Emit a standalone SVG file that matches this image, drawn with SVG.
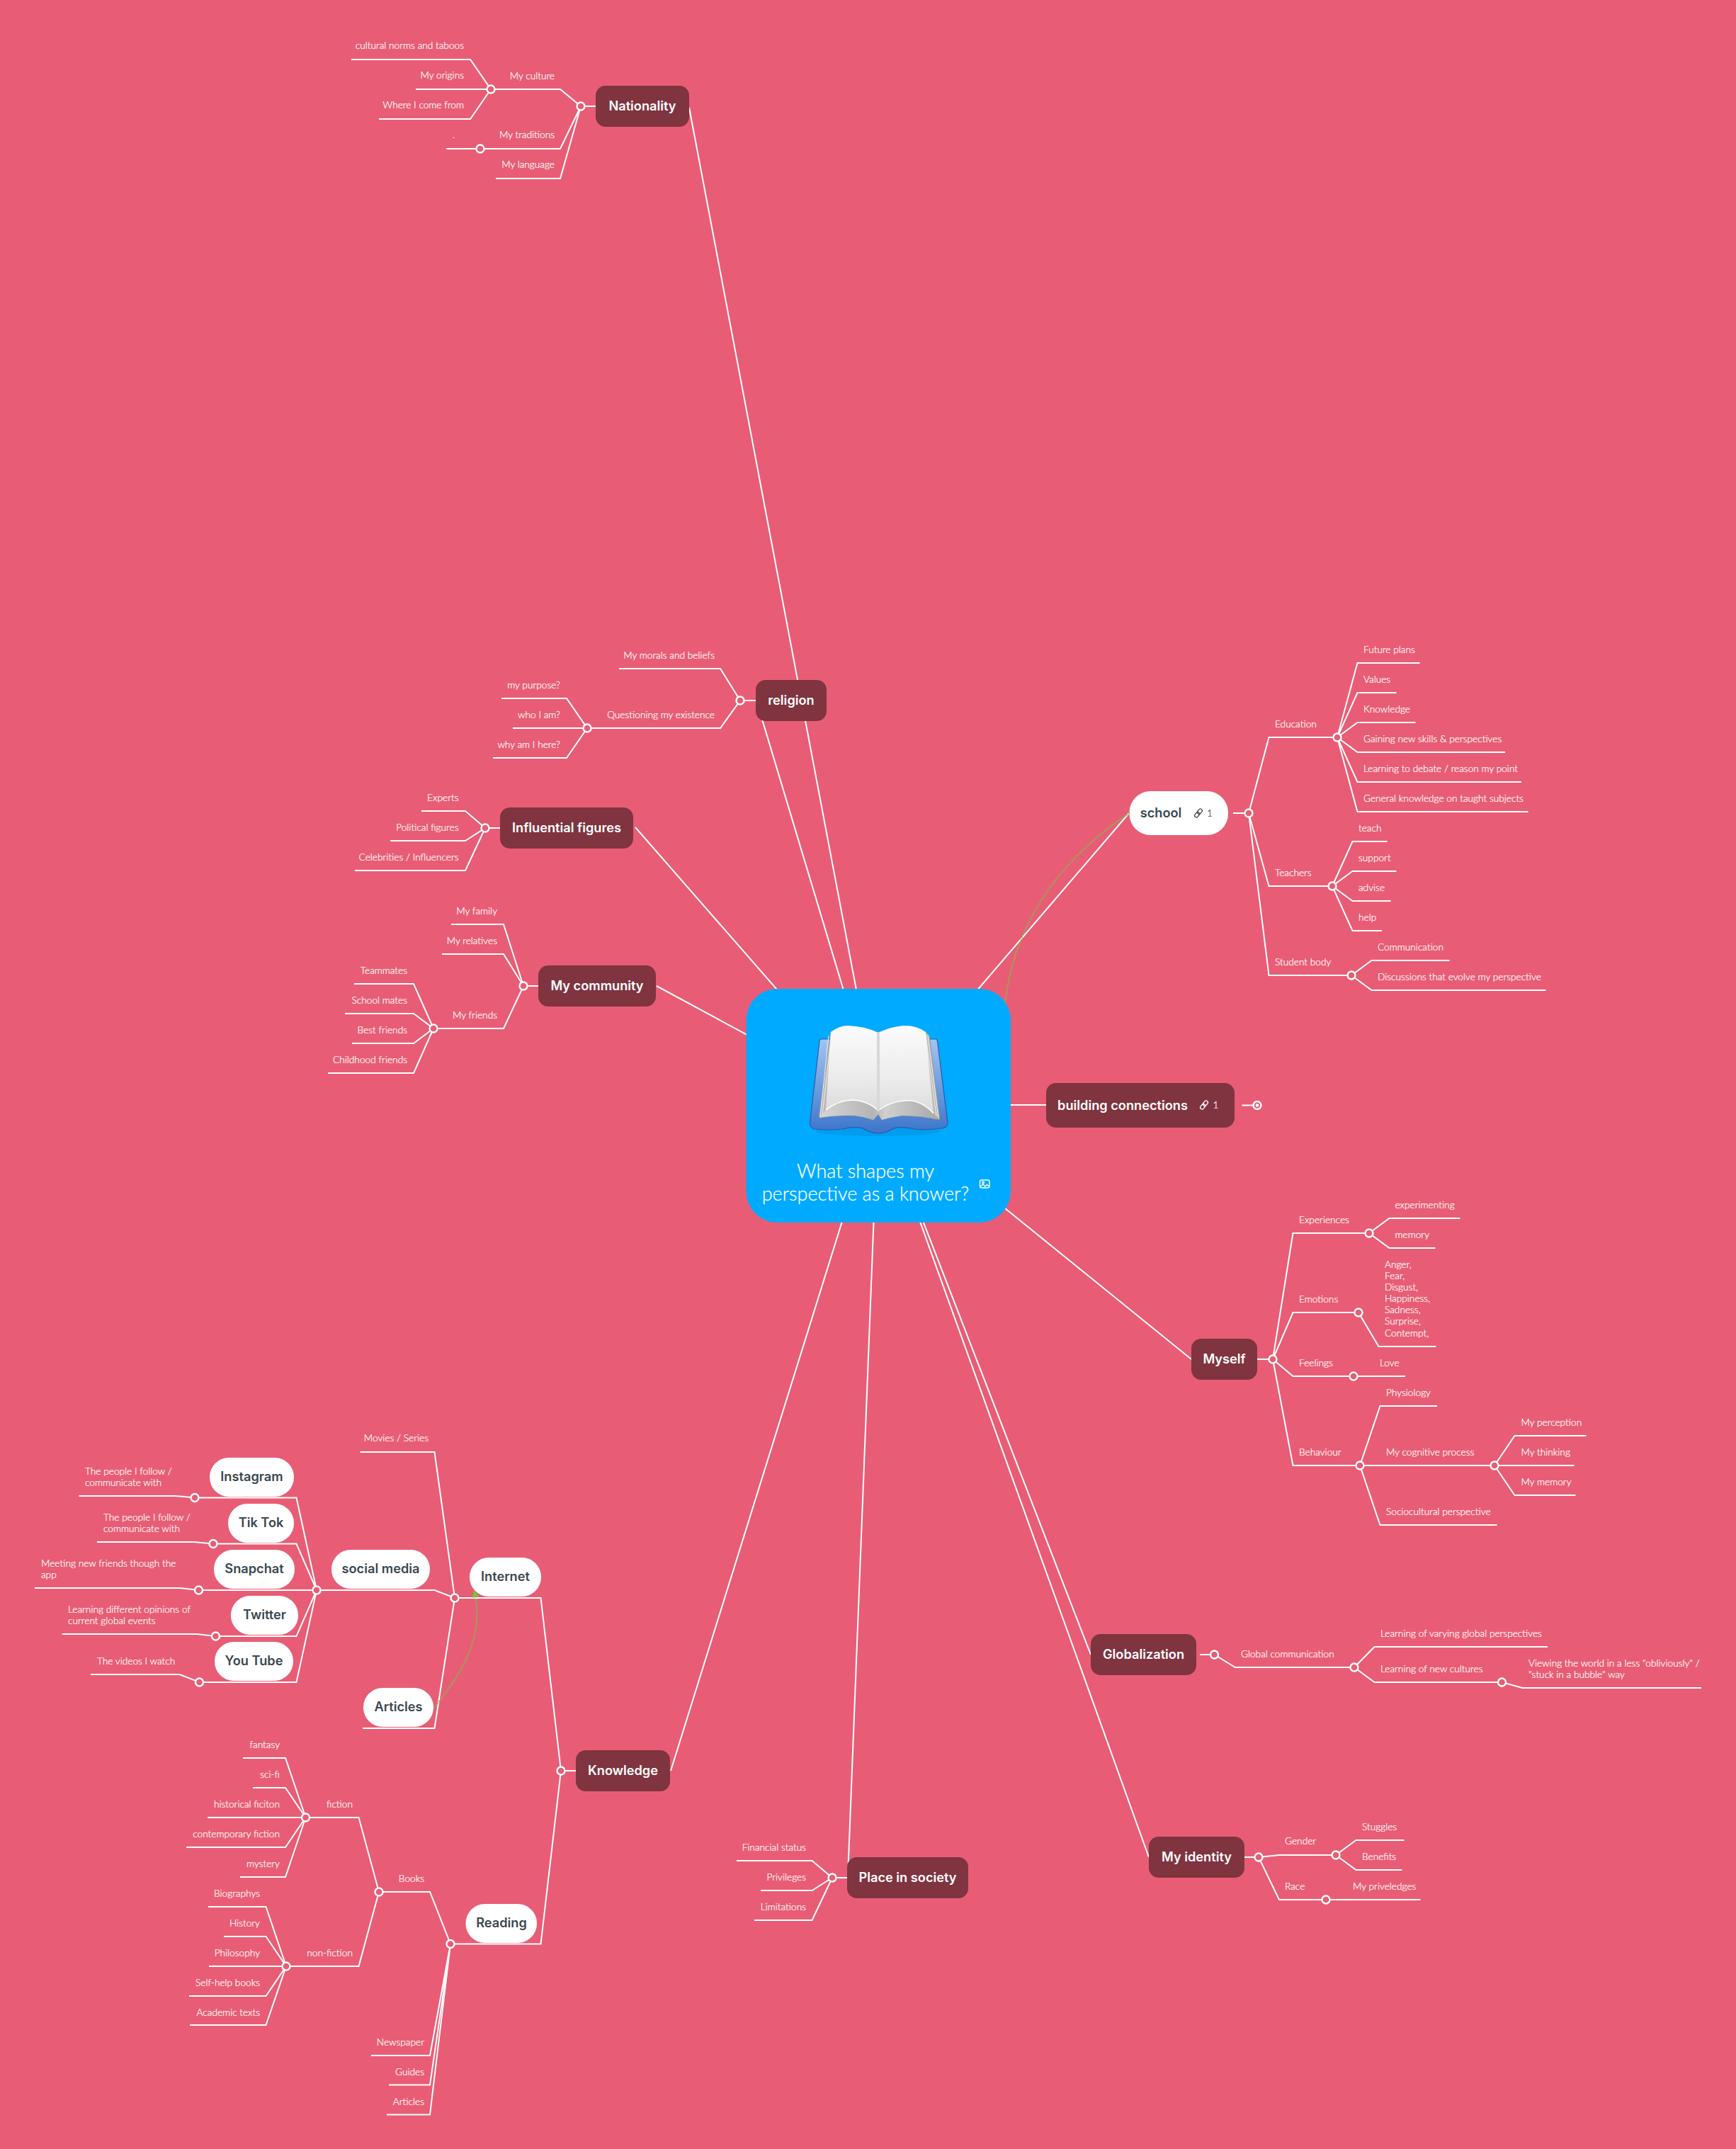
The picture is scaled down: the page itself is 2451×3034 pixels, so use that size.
<svg xmlns="http://www.w3.org/2000/svg" width="2451" height="3034" viewBox="0 0 2451 3034">
<style>
.l{fill:none;stroke:#fff;stroke-width:2;stroke-linejoin:miter}
.h{fill:#e85d75;stroke:#fff;stroke-width:2.4}
.r{fill:none;stroke:#7ac143;stroke-width:2;stroke-dasharray:2 1.500}
text{font-family:"Lato","Liberation Sans",sans-serif}
.t{font-size:13.7px;font-weight:300;fill:#fff;stroke:#fff;stroke-width:.22px}
.e{text-anchor:end}
.d{fill:#7f3440}
.p{fill:#fff}
.n,.q{font-family:"Inter","Liberation Sans",sans-serif;font-size:18.200px;font-weight:600;text-anchor:middle}
.n{fill:#fff}
.q{fill:#3a4750}
.c{font-size:27px;font-weight:300;fill:#fff;stroke:#fff;stroke-width:.25px;text-anchor:middle}
</style>
<defs>
<marker id="arr" markerWidth="12" markerHeight="12" refX="11" refY="6" orient="auto" markerUnits="userSpaceOnUse"><path d="M1 1L11 6L1 11Z" fill="#7ac143"/></marker>
<linearGradient id="pg" x1="0" y1="0" x2="0" y2="1"><stop offset="0" stop-color="#fbfbfb"/><stop offset=".6" stop-color="#ececec"/><stop offset="1" stop-color="#dcdcdc"/></linearGradient>
<linearGradient id="pb" x1="0" y1="0" x2="1" y2="0"><stop offset="0" stop-color="#d6d6d6"/><stop offset=".45" stop-color="#b4b4b4"/><stop offset=".55" stop-color="#cfcfcf"/><stop offset="1" stop-color="#a8a8a8"/></linearGradient>
<linearGradient id="cv" x1="0" y1="0" x2="0" y2="1"><stop offset="0" stop-color="#a4c4ee"/><stop offset=".7" stop-color="#5a8ed8"/><stop offset="1" stop-color="#3c74c8"/></linearGradient>
<g id="link"><g transform="rotate(-50)" fill="none" stroke-width="1.300"><rect x="-7" y="-2.500" width="8" height="5" rx="2.500"/><rect x="-1" y="-2.500" width="8" height="5" rx="2.500"/></g></g>
</defs>
<rect width="2451" height="3034" fill="#e85d75"/>
<g id="connectors">
<path class="l" d="M973 152L1240 1561M1068 989L1240 1561M897 1168L1240 1561M927 1392L1240 1561M1594 1148L1240 1561M1427 1560H1477M1682 1919L1240 1561M1540 2336L1240 1561M1622 2622L1240 1561M1197 2650L1240 1561M947 2500L1240 1561"/>
<path class="l" d="M841 150H820L791 126H693M693 126L664 84H496M693 126H587M693 126L664 168H535M820 150L791 210H630M820 150L791 252H700"/>
<path class="l" d="M1067 989H1045L1017 944H874M1045 989L1017 1028H829M829 1028L800 986H708M829 1028H724M829 1028L800 1070H696"/>
<path class="l" d="M706 1169H685L657 1145H595M685 1169L657 1187H551M685 1169L657 1229H501"/>
<path class="l" d="M760 1392H739L711 1305H637M739 1392L711 1347H624M739 1392L711 1452H612M612 1452L584 1389H500M612 1452L584 1431H487M612 1452L584 1473H497M612 1452L584 1515H463"/>
<path class="l" d="M1741 1148H1763L1791.500 1041H1888M1763 1148L1791.500 1251H1881M1763 1148L1791.500 1377H1908"/>
<path class="l" d="M1888 1041L1916.500 936H2004.500M1888 1041L1916.500 978H1971.500M1888 1041L1916.500 1020H1998.500M1888 1041L1916.500 1062H2125M1888 1041L1916.500 1104H2148M1888 1041L1916.500 1146H2157.500"/>
<path class="l" d="M1881 1251L1909.500 1188H1958.500M1881 1251L1909.500 1230H1971.500M1881 1251L1909.500 1272H1963.500M1881 1251L1909.500 1314H1951M1908 1377L1936.500 1356H2046.500M1908 1377L1936.500 1398H2182.500"/>
<path class="l" d="M1753.500 1560.500H1775"/>
<path class="l" d="M1775 1919H1797L1825.500 1741H1933M1797 1919L1825.500 1853H1918M1797 1919L1825.500 1943H1984M1797 1919L1825.500 2069H2110"/>
<path class="l" d="M1933 1741L1961.500 1720H2061.500M1933 1741L1961.500 1762H2026.500M1918 1853L1946.500 1901H2027.500M1920 2069L1948.500 1985H2029M1920 2069L1948.500 2153H2113.500M2110 2069L2138.500 2027H2239.500M2110 2069H2222.500M2110 2069L2138.500 2111H2224.500"/>
<path class="l" d="M1694 2336H1714.500L1744 2354H1912M1912 2354L1940.500 2325H2185M1912 2354L1940.500 2375H2120.500L2149.500 2383H2402"/>
<path class="l" d="M1757 2622H1777L1806 2619H1886M1777 2622L1806 2682H2005.500M1886 2619L1914.500 2598H1982.500M1886 2619L1914.500 2640H1979.500"/>
<path class="l" d="M1196 2651H1175L1146.500 2627H1040M1175 2651L1146.500 2669H1074M1175 2651L1146.500 2711H1065"/>
<path class="l" d="M813 2500H792L763.500 2256H642M792 2500L763.500 2744.500H636"/>
<path class="l" d="M642 2256L613.500 2050H508.500M642 2256L613.500 2245H447M642 2256L613.500 2440H512"/>
<path class="l" d="M447 2245L418.500 2114.500H275L248 2112H111.500M447 2245L418.500 2179.500H301L274 2177H137M447 2245H280.500L253.500 2242H49M447 2245L418.500 2310H304.500L278 2307H87.500M447 2245L418.500 2375H281.500L253.500 2364H128"/>
<path class="l" d="M636 2744.500L607 2671H535M636 2744.500L607 2902H524M636 2744.500L607 2943.500H549M636 2744.500L607 2985.500H546"/>
<path class="l" d="M535 2671L506.500 2566H431.500M535 2671L506.500 2776H404"/>
<path class="l" d="M431.500 2566L403 2482H343M431.500 2566L403 2524H357M431.500 2566H293M431.500 2566L403 2608H263M431.500 2566L403 2650H339"/>
<path class="l" d="M404 2776L375.500 2692H294M404 2776L375.500 2734H316M404 2776H295M404 2776L375.500 2818H267M404 2776L375.500 2859H268"/>
<g id="hubs">
<circle class="h" cx="820" cy="150" r="5.500"/><circle class="h" cx="693" cy="126" r="5.500"/><circle class="h" cx="678" cy="210" r="5.500"/>
<circle class="h" cx="1045" cy="989" r="5.500"/><circle class="h" cx="829" cy="1028" r="5.500"/><circle class="h" cx="685" cy="1169" r="5.500"/>
<circle class="h" cx="739" cy="1392" r="5.500"/><circle class="h" cx="612" cy="1452" r="5.500"/>
<circle class="h" cx="1763" cy="1148" r="5.500"/><circle class="h" cx="1888" cy="1041" r="5.500"/><circle class="h" cx="1881" cy="1251" r="5.500"/><circle class="h" cx="1908" cy="1377" r="5.500"/>
<circle class="h" cx="1775" cy="1560.500" r="5.500"/><circle cx="1775" cy="1560.500" r="2.300" fill="#fff"/>
<circle class="h" cx="1797" cy="1919" r="5.500"/><circle class="h" cx="1933" cy="1741" r="5.500"/><circle class="h" cx="1918" cy="1853" r="5.500"/><circle class="h" cx="1911" cy="1943" r="5.500"/><circle class="h" cx="1920" cy="2069" r="5.500"/><circle class="h" cx="2110" cy="2069" r="5.500"/>
<circle class="h" cx="1714.500" cy="2336" r="5.500"/><circle class="h" cx="1912" cy="2354" r="5.500"/><circle class="h" cx="2120.500" cy="2375" r="5.500"/>
<circle class="h" cx="1777" cy="2622" r="5.500"/><circle class="h" cx="1886" cy="2619" r="5.500"/><circle class="h" cx="1872" cy="2682" r="5.500"/>
<circle class="h" cx="1175" cy="2651" r="5.500"/>
<circle class="h" cx="792" cy="2500" r="5.500"/><circle class="h" cx="642" cy="2256" r="5.500"/><circle class="h" cx="447" cy="2245" r="5.500"/>
<circle class="h" cx="275" cy="2114.500" r="5.500"/><circle class="h" cx="301" cy="2179.500" r="5.500"/><circle class="h" cx="280.500" cy="2245" r="5.500"/><circle class="h" cx="304.500" cy="2310" r="5.500"/><circle class="h" cx="281.500" cy="2375" r="5.500"/>
<circle class="h" cx="636" cy="2744.500" r="5.500"/><circle class="h" cx="535" cy="2671" r="5.500"/><circle class="h" cx="431.500" cy="2566" r="5.500"/><circle class="h" cx="404" cy="2776" r="5.500"/>
</g>
</g>
<g id="central">
<rect x="1053.500" y="1396" width="373.500" height="330" rx="44" fill="#00aaff"/>
<g id="book">
<ellipse cx="1240" cy="1597" rx="88" ry="7" fill="#0090e0" opacity=".5"/>
<path d="M1160 1467H1321Q1323 1467 1323.500 1470L1338 1585Q1338 1592 1330 1593Q1305 1596 1290 1594Q1272 1590 1262 1593Q1250 1600 1240 1600Q1230 1600 1218 1593Q1205 1590 1190 1594Q1170 1596 1150 1594Q1143 1592 1143.500 1585L1157 1470Q1157 1467 1160 1467Z" fill="url(#cv)" stroke="#2c5aa6" stroke-width="1.200"/>
<path d="M1173 1457L1156 1578Q1185 1574 1207 1575Q1222 1577 1233 1581L1240 1573L1245 1581Q1258 1577 1273 1575Q1300 1575 1327 1581L1312 1462L1307 1457Z" fill="#b9b9b9" stroke="#8f8f8f" stroke-width=".8"/>
<path d="M1170 1462L1158 1576M1174 1460L1161 1574M1310 1462L1325 1578M1307 1460L1322 1576" fill="none" stroke="#eee" stroke-width="1"/>
<path d="M1166 1567L1157 1578Q1185 1574 1207 1575Q1222 1577 1233 1581L1240 1573L1245 1581Q1258 1577 1273 1575Q1300 1575 1326 1580L1318 1572Q1300 1552 1277 1554Q1255 1556 1240 1568Q1225 1554 1203 1553Q1182 1554 1166 1567Z" fill="url(#pb)"/>
<path d="M1173 1457Q1185 1448 1197 1448Q1222 1449 1240 1458L1240 1568Q1225 1554 1203 1553Q1182 1554 1166 1567Z" fill="url(#pg)"/>
<path d="M1307 1457Q1295 1448 1277 1448Q1258 1449 1240 1458L1240 1568Q1255 1556 1277 1554Q1300 1552 1318 1572Z" fill="url(#pg)"/>
<path d="M1166 1567Q1182 1554 1203 1553Q1225 1554 1240 1568Q1255 1556 1277 1554Q1300 1552 1318 1572" fill="none" stroke="#fff" stroke-width="1.500"/>
<path d="M1240 1458V1568" stroke="#d8d8d8" stroke-width="4"/>
</g>
<text class="c"><tspan x="1222" y="1663">What shapes my</tspan><tspan x="1222" y="1695">perspective as a knower?</tspan></text>
<g id="image-icon" fill="none" stroke="#fff" stroke-width="1.400"><rect x="1383.500" y="1666" width="13.500" height="11" rx="2.500"/><circle cx="1388" cy="1669.500" r="1.300"/><path d="M1384 1675.500L1388 1672L1391 1675L1393.500 1672.500L1396.500 1675"/></g>
</g>
<g id="nationality"><rect class="d" x="841" y="121" width="132" height="58" rx="14"/><text class="n" x="907" y="156">Nationality</text></g>
<g id="religion"><rect class="d" x="1067" y="960" width="100" height="58" rx="14"/><text class="n" x="1117" y="995">religion</text></g>
<g id="influential-figures"><rect class="d" x="706" y="1140" width="188" height="58" rx="14"/><text class="n" x="800" y="1175">Influential figures</text></g>
<g id="my-community"><rect class="d" x="760" y="1363" width="166" height="58" rx="14"/><text class="n" x="843" y="1398">My community</text></g>
<g id="building-connections"><rect class="d" x="1477" y="1529" width="266" height="63" rx="14"/><text class="n" x="1585" y="1566.500">building connections</text><use href="#link" x="1700" y="1560" stroke="#fff"/><text class="t" x="1712.500" y="1565">1</text></g>
<g id="school"><rect class="p" x="1594.500" y="1117" width="139.500" height="62" rx="30"/><text class="q" x="1639" y="1154">school</text><use href="#link" x="1692" y="1148" stroke="#3a4750"/><text class="t" style="fill:#3a4750;stroke:#3a4750" x="1704" y="1153">1</text></g>
<g id="myself"><rect class="d" x="1682" y="1890" width="93" height="58" rx="14"/><text class="n" x="1728.500" y="1925">Myself</text></g>
<g id="globalization"><rect class="d" x="1540" y="2307" width="149" height="58" rx="14"/><text class="n" x="1614.500" y="2342">Globalization</text></g>
<g id="my-identity"><rect class="d" x="1622" y="2593" width="135" height="58" rx="14"/><text class="n" x="1689.500" y="2628">My identity</text></g>
<g id="place-in-society"><rect class="d" x="1196" y="2622" width="171" height="58" rx="14"/><text class="n" x="1281.500" y="2657">Place in society</text></g>
<g id="knowledge"><rect class="d" x="813" y="2471" width="133" height="58" rx="14"/><text class="n" x="879.500" y="2506">Knowledge</text></g>
<g id="internet"><rect class="p" x="663" y="2199" width="101" height="55" rx="27"/><text class="q" x="713.500" y="2232">Internet</text></g>
<g id="social-media"><rect class="p" x="468" y="2188" width="139" height="55" rx="27"/><text class="q" x="537.500" y="2221">social media</text></g>
<g id="articles-node"><rect class="p" x="513" y="2383" width="99" height="55" rx="27"/><text class="q" x="562.500" y="2416">Articles</text></g>
<g id="instagram"><rect class="p" x="296" y="2058" width="119" height="55" rx="27"/><text class="q" x="355.500" y="2091">Instagram</text></g>
<g id="tik-tok"><rect class="p" x="322" y="2123" width="93" height="55" rx="27"/><text class="q" x="368.500" y="2156">Tik Tok</text></g>
<g id="snapchat"><rect class="p" x="302" y="2188" width="114" height="55" rx="27"/><text class="q" x="359" y="2221">Snapchat</text></g>
<g id="twitter"><rect class="p" x="326" y="2253" width="95" height="55" rx="27"/><text class="q" x="373.500" y="2286">Twitter</text></g>
<g id="you-tube"><rect class="p" x="303" y="2318" width="111" height="55" rx="27"/><text class="q" x="358.500" y="2351">You Tube</text></g>
<g id="reading"><rect class="p" x="657.500" y="2688" width="100.500" height="55" rx="27"/><text class="q" x="708" y="2721">Reading</text></g>
<g id="relations">
<path class="r" d="M1595 1148C1500 1210 1432 1300 1419 1417"/>
<path class="r" d="M613 2411C650 2365 686 2310 669 2245" marker-end="url(#arr)"/>
</g>
<g id="labels-left">
<g id="t-norms"><text class="t e" x="655" y="69">cultural norms and taboos</text></g>
<g id="t-origins"><text class="t e" x="655" y="111">My origins</text></g>
<g id="t-where"><text class="t e" x="655" y="153">Where I come from</text></g>
<g id="t-culture"><text class="t e" x="783" y="112">My culture</text></g>
<g id="t-traditions"><text class="t e" x="783" y="195">My traditions</text></g>
<g id="t-dot"><text class="t e" x="642" y="195">.</text></g>
<g id="t-language"><text class="t e" x="783" y="237">My language</text></g>
<g id="t-morals"><text class="t e" x="1009" y="930">My morals and beliefs</text></g>
<g id="t-question"><text class="t e" x="1009" y="1014">Questioning my existence</text></g>
<g id="t-purpose"><text class="t e" x="791" y="972">my purpose?</text></g>
<g id="t-who"><text class="t e" x="791" y="1014">who I am?</text></g>
<g id="t-why"><text class="t e" x="791" y="1056">why am I here?</text></g>
<g id="t-experts"><text class="t e" x="647.500" y="1131">Experts</text></g>
<g id="t-political"><text class="t e" x="647.500" y="1173">Political figures</text></g>
<g id="t-celebs"><text class="t e" x="647.500" y="1215">Celebrities / Influencers</text></g>
<g id="t-family"><text class="t e" x="702" y="1291">My family</text></g>
<g id="t-relatives"><text class="t e" x="702" y="1333">My relatives</text></g>
<g id="t-friends"><text class="t e" x="702" y="1438">My friends</text></g>
<g id="t-teammates"><text class="t e" x="575" y="1375">Teammates</text></g>
<g id="t-school"><text class="t e" x="575" y="1417">School mates</text></g>
<g id="t-best"><text class="t e" x="575" y="1459">Best friends</text></g>
<g id="t-childhood"><text class="t e" x="575" y="1501">Childhood friends</text></g>
<g id="t-financial"><text class="t e" x="1138" y="2613">Financial status</text></g>
<g id="t-privileges"><text class="t e" x="1138" y="2655">Privileges</text></g>
<g id="t-limitations"><text class="t e" x="1138" y="2697">Limitations</text></g>
<g id="t-movies"><text class="t e" x="605" y="2035">Movies / Series</text></g>
<g id="t-ig"><text class="t"><tspan x="120" y="2082">The people I follow /</tspan><tspan x="120" y="2098">communicate with</tspan></text></g>
<g id="t-tt"><text class="t"><tspan x="146" y="2147">The people I follow /</tspan><tspan x="146" y="2163">communicate with</tspan></text></g>
<g id="t-sc"><text class="t"><tspan x="58" y="2212">Meeting new friends though the</tspan><tspan x="58" y="2228">app</tspan></text></g>
<g id="t-tw"><text class="t"><tspan x="96" y="2277">Learning different opinions of</tspan><tspan x="96" y="2293">current global events</tspan></text></g>
<g id="t-yt"><text class="t" x="137" y="2350">The videos I watch</text></g>
<g id="t-fiction"><text class="t e" x="498" y="2552">fiction</text></g>
<g id="t-nonfiction"><text class="t e" x="498" y="2762">non-fiction</text></g>
<g id="t-books"><text class="t e" x="599" y="2657">Books</text></g>
<g id="t-fantasy"><text class="t e" x="395" y="2468">fantasy</text></g>
<g id="t-scifi"><text class="t e" x="395" y="2510">sci-fi</text></g>
<g id="t-historical"><text class="t e" x="395" y="2552">historical ficiton</text></g>
<g id="t-contemporary"><text class="t e" x="395" y="2594">contemporary fiction</text></g>
<g id="t-mystery"><text class="t e" x="395" y="2636">mystery</text></g>
<g id="t-bio"><text class="t e" x="367" y="2678">Biographys</text></g>
<g id="t-history"><text class="t e" x="367" y="2720">History</text></g>
<g id="t-philosophy"><text class="t e" x="367" y="2762">Philosophy</text></g>
<g id="t-selfhelp"><text class="t e" x="367" y="2804">Self-help books</text></g>
<g id="t-academic"><text class="t e" x="367" y="2846">Academic texts</text></g>
<g id="t-news"><text class="t e" x="599" y="2888">Newspaper</text></g>
<g id="t-guides"><text class="t e" x="599" y="2930">Guides</text></g>
<g id="t-articles"><text class="t e" x="599" y="2972">Articles</text></g>
</g>
<g id="labels-right">
<g id="t-edu"><text class="t" x="1800" y="1027">Education</text></g>
<g id="t-teachers"><text class="t" x="1800" y="1237">Teachers</text></g>
<g id="t-body"><text class="t" x="1800" y="1363">Student body</text></g>
<g id="t-future"><text class="t" x="1925" y="922">Future plans</text></g>
<g id="t-values"><text class="t" x="1925" y="964">Values</text></g>
<g id="t-know"><text class="t" x="1925" y="1006">Knowledge</text></g>
<g id="t-gaining"><text class="t" x="1925" y="1048">Gaining new skills &amp; perspectives</text></g>
<g id="t-debate"><text class="t" x="1925" y="1090">Learning to debate / reason my point</text></g>
<g id="t-general"><text class="t" x="1925" y="1132">General knowledge on taught subjects</text></g>
<g id="t-teach"><text class="t" x="1918" y="1174">teach</text></g>
<g id="t-support"><text class="t" x="1918" y="1216">support</text></g>
<g id="t-advise"><text class="t" x="1918" y="1258">advise</text></g>
<g id="t-help"><text class="t" x="1918" y="1300">help</text></g>
<g id="t-comm"><text class="t" x="1945" y="1342">Communication</text></g>
<g id="t-disc"><text class="t" x="1945" y="1384">Discussions that evolve my perspective</text></g>
<g id="t-exp"><text class="t" x="1834" y="1727">Experiences</text></g>
<g id="t-emo"><text class="t" x="1834" y="1839">Emotions</text></g>
<g id="t-feel"><text class="t" x="1834" y="1929">Feelings</text></g>
<g id="t-beh"><text class="t" x="1834" y="2055">Behaviour</text></g>
<g id="t-expm"><text class="t" x="1969.500" y="1706">experimenting</text></g>
<g id="t-mem"><text class="t" x="1969.500" y="1748">memory</text></g>
<g id="t-emolist"><text class="t"><tspan x="1955" y="1790">Anger,</tspan><tspan x="1955" y="1806">Fear,</tspan><tspan x="1955" y="1822">Disgust,</tspan><tspan x="1955" y="1838">Happiness,</tspan><tspan x="1955" y="1854">Sadness,</tspan><tspan x="1955" y="1870">Surprise,</tspan><tspan x="1955" y="1887">Contempt,</tspan></text></g>
<g id="t-love"><text class="t" x="1948" y="1929">Love</text></g>
<g id="t-phys"><text class="t" x="1957" y="1971">Physiology</text></g>
<g id="t-cog"><text class="t" x="1957" y="2055">My cognitive process</text></g>
<g id="t-socio"><text class="t" x="1957" y="2139">Sociocultural perspective</text></g>
<g id="t-perc"><text class="t" x="2147.500" y="2013">My perception</text></g>
<g id="t-think"><text class="t" x="2147.500" y="2055">My thinking</text></g>
<g id="t-mymem"><text class="t" x="2147.500" y="2097">My memory</text></g>
<g id="t-gc"><text class="t" x="1752" y="2340">Global communication</text></g>
<g id="t-varying"><text class="t" x="1949" y="2311">Learning of varying global perspectives</text></g>
<g id="t-newcult"><text class="t" x="1949" y="2361">Learning of new cultures</text></g>
<g id="t-viewing"><text class="t"><tspan x="2158" y="2353">Viewing the world in a less "obliviously" /</tspan><tspan x="2158" y="2369">"stuck in a bubble" way</tspan></text></g>
<g id="t-gender"><text class="t" x="1814" y="2604">Gender</text></g>
<g id="t-race"><text class="t" x="1814" y="2668">Race</text></g>
<g id="t-priv"><text class="t" x="1910" y="2668">My priveledges</text></g>
<g id="t-stug"><text class="t" x="1923" y="2584">Stuggles</text></g>
<g id="t-ben"><text class="t" x="1923" y="2626">Benefits</text></g>
</g>
</svg>
